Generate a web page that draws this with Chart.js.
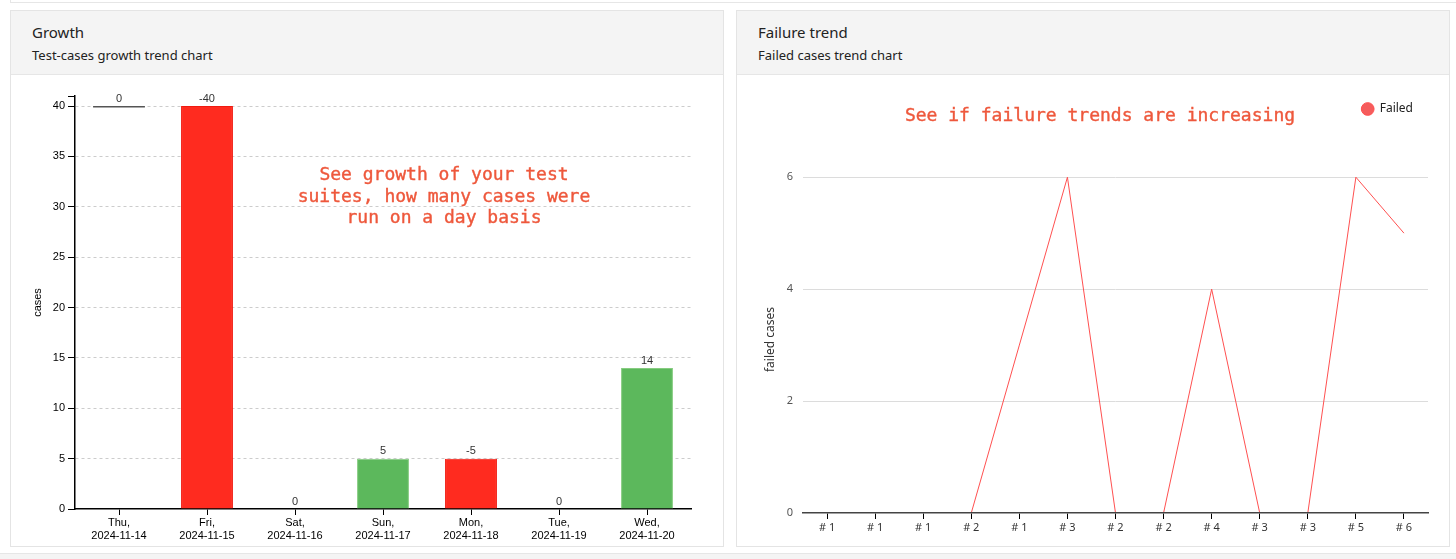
<!DOCTYPE html>
<html><head><meta charset="utf-8">
<script src="https://cdn.jsdelivr.net/npm/chart.js@4.4.1/dist/chart.umd.min.js"></script>
<style>
html,body{margin:0;padding:0;background:#fff;width:1456px;height:559px;overflow:hidden;position:relative;font-family:"Noto Sans","Open Sans",sans-serif;}
.strip-top{position:absolute;left:10px;top:-20px;width:1446px;height:21px;border:1px solid #e6e6e6;background:#fff;}
.strip-bot{position:absolute;left:0;top:553px;width:1456px;height:20px;border-top:1px solid #e6e6e6;background:#f4f4f4;}
.card{position:absolute;top:10px;width:712px;height:535px;border:1px solid #e4e4e4;background:#fff;}
.hdr{position:absolute;left:0;top:0;right:0;height:63px;background:#f4f4f4;border-bottom:1px solid #e6e6e6;}
.t1{position:absolute;left:21px;top:11px;font-size:15px;color:#222;line-height:20px;white-space:nowrap;}
.t2{position:absolute;left:21px;top:35px;font-size:13px;color:#222;line-height:18px;white-space:nowrap;}
canvas{position:absolute;}
.note{position:absolute;font-family:"DejaVu Sans Mono",monospace;font-size:18px;color:rgb(238,88,60);-webkit-text-stroke:0.4px rgb(238,88,60);text-align:center;white-space:nowrap;}
</style>
</head><body>
<div class="strip-top"></div>
<div class="strip-bot"></div>
<div class="card" style="left:10px;"><div class="hdr"><div class="t1">Growth</div><div class="t2">Test-cases growth trend chart</div></div></div>
<div class="card" style="left:736px;"><div class="hdr"><div class="t1">Failure trend</div><div class="t2">Failed cases trend chart</div></div></div>
<canvas id="growth" width="712" height="471" style="left:11px;top:75px;"></canvas>
<canvas id="failure" width="712" height="471" style="left:737px;top:75px;"></canvas>
<div class="note" style="left:244px;top:163px;width:400px;line-height:21.5px;">See growth of your test<br>suites, how many cases were<br>run on a day basis</div>
<div class="note" style="left:900px;top:104px;width:400px;line-height:22px;">See if failure trends are increasing</div>
<script>
// ---- Growth chart data ----
const growthDays = [["Thu,","2024-11-14"],["Fri,","2024-11-15"],["Sat,","2024-11-16"],["Sun,","2024-11-17"],["Mon,","2024-11-18"],["Tue,","2024-11-19"],["Wed,","2024-11-20"]];
const growthCases = [40, 40, 0, 5, 5, 0, 14];
const growthDiff = [0, -40, 0, 5, -5, 0, 14];
const growthTicks = [0, 5, 10, 15, 20, 25, 30, 35, 40];
const growthMax = 41;

// ---- Failure chart data ----
const failureBuilds = ["# 1","# 1","# 1","# 2","# 1","# 3","# 2","# 2","# 4","# 3","# 3","# 5","# 6"];
const failedCases = [0, 0, 0, 0, 3, 6, 0, 0, 4, 0, 0, 6, 5];
const failureTicks = [0, 2, 4, 6];
const failureMax = 6.2;

const RED = '#ff2b1f', RED_B = '#f01a10', GREEN = '#5cb85c', GREEN_B = '#86cc80';
const helv = '"Liberation Sans", Arial, Helvetica, sans-serif';
const noto = '"Noto Sans", "Open Sans", sans-serif';

const barLabels = {
  id: 'barLabels',
  afterDatasetsDraw(chart) {
    const meta = chart.getDatasetMeta(0);
    const ctx = chart.ctx;
    ctx.save();
    ctx.font = '11px ' + helv;
    ctx.fillStyle = '#333';
    ctx.textAlign = 'center';
    ctx.textBaseline = 'bottom';
    meta.data.forEach((bar, i) => ctx.fillText(String(growthDiff[i]), bar.x, bar.y - 2));
    ctx.restore();
  }
};

new Chart(document.getElementById('growth'), {
  type: 'bar',
  data: {
    labels: growthDays,
    datasets: [{
      data: growthCases,
      backgroundColor: growthDiff.map(d => d > 0 ? GREEN : d < 0 ? RED : 'rgba(0,0,0,0)'),
      borderColor: growthDiff.map(d => d > 0 ? GREEN_B : d < 0 ? RED_B : '#555'),
      borderWidth: growthDiff.map(d => d === 0 ? {top: 1.5, left: 0, right: 0, bottom: 0} : 1),
      categoryPercentage: 1,
      barPercentage: 0.59
    }]
  },
  options: {
    responsive: false, animation: false,
    layout: {padding: {left: 0, top: 21, right: 32, bottom: 0}},
    plugins: {legend: {display: false}, tooltip: {enabled: false}},
    scales: {
      x: {
        offset: true,
        grid: {display: true, drawOnChartArea: false, offset: false, tickLength: 6, tickColor: '#000', color: '#000'},
        border: {display: true, color: '#000', width: 1.5},
        ticks: {color: '#000', font: {family: helv, size: 11}, padding: 1, maxRotation: 0, autoSkip: false},
        afterFit(s) { s.height = 37; }
      },
      y: {
        min: 0, max: growthMax,
        afterBuildTicks(s) { s.ticks = growthTicks.concat([growthMax]).map(v => ({value: v})); },
        afterFit(s) { s.width = 64; },
        ticks: {color: '#000', font: {family: helv, size: 11}, padding: 3,
          callback: v => growthTicks.includes(v) ? String(v) : ''},
        grid: {
          color: c => (c.tick && (c.tick.value === growthMax || c.tick.value === 0)) ? 'rgba(0,0,0,0)' : '#cccccc',
          tickColor: '#000', tickLength: 7, tickWidth: 1, lineWidth: 1, tickBorderDash: []
        },
        border: {display: true, color: '#000', width: 1.5, dash: [3, 3]},
        title: {display: true, text: 'cases', color: '#000', font: {family: helv, size: 11}, padding: {top: 20, bottom: 0}}
      }
    }
  },
  plugins: [barLabels]
});

new Chart(document.getElementById('failure'), {
  type: 'line',
  data: {
    labels: failureBuilds,
    datasets: [{
      label: 'Failed',
      data: failedCases,
      borderColor: 'rgb(255,80,80)',
      backgroundColor: 'rgb(245,92,92)',
      borderWidth: 1,
      pointRadius: 0,
      tension: 0,
      fill: false
    }]
  },
  options: {
    responsive: false, animation: false,
    layout: {padding: {left: 0, top: 13, right: 21, bottom: 0}},
    plugins: {
      legend: {display: true, position: 'top', align: 'end',
        labels: {usePointStyle: true, pointStyle: 'circle', boxWidth: 12, boxHeight: 9, padding: 15, color: '#222', font: {family: noto, size: 12}}},
      tooltip: {enabled: false}
    },
    scales: {
      x: {
        offset: true,
        grid: {display: true, drawOnChartArea: false, offset: false, tickLength: 6, tickColor: '#000', color: '#000'},
        border: {display: true, color: '#444', width: 1.5, z: 1},
        ticks: {color: '#333', font: {family: noto, size: 11}, padding: 2, maxRotation: 0, autoSkip: false},
        afterFit(s) { s.height = 33; }
      },
      x2: {
        axis: 'x', type: 'category', position: 'top', display: true,
        grid: {display: false, drawTicks: false}, border: {display: false}, ticks: {display: false},
        afterFit(s) { s.height = 41; }
      },
      y: {
        min: 0, max: failureMax,
        afterBuildTicks(s) { s.ticks = failureTicks.map(v => ({value: v})); },
        afterFit(s) { s.width = 66; },
        grid: {color: c => (c.tick && c.tick.value === 0) ? 'rgba(0,0,0,0)' : '#dcdcdc', drawTicks: false, lineWidth: 1},
        border: {display: false},
        ticks: {color: '#555', font: {family: noto, size: 11}, padding: 10},
        title: {display: true, text: 'failed cases', color: '#333', font: {family: noto, size: 12}, padding: {top: 26, bottom: 0}}
      }
    }
  }
});
</script>
</body></html>
